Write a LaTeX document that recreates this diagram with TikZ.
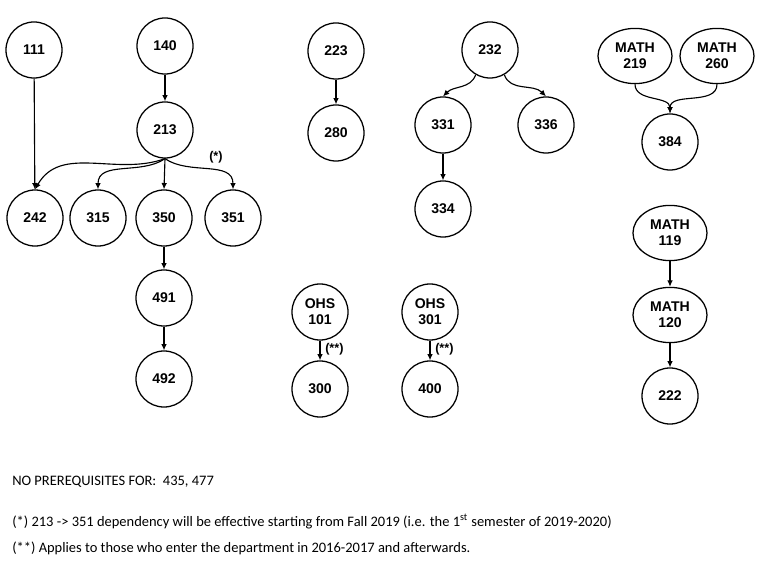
\documentclass[tikz,border=0pt]{standalone}
\usepackage{fontspec}
\setmainfont{Liberation Sans}
\newfontfamily\notefont{Carlito}
\usetikzlibrary{arrows.meta,shapes.geometric}

\tikzset{
  course/.style={draw, circle, line width=0.9pt, minimum size=1.4cm, inner sep=0pt, align=center, font=\bfseries\fontsize{10}{11.5}\selectfont},
  mathcourse/.style={draw, ellipse, line width=0.9pt, minimum width=1.85cm, minimum height=1.38cm, inner sep=0pt, align=center, font=\bfseries\fontsize{10}{11.5}\selectfont},
  prereq/.style={line width=0.8pt, -{Latex[length=4.5pt, width=4pt]}},
  mark note/.style={font=\bfseries\fontsize{9}{10}\selectfont},
  footnote/.style={anchor=base west, inner sep=0pt, font=\notefont\fontsize{10.3}{12}\selectfont}
}

\begin{document}
\begin{tikzpicture}[x=0.025cm, y=-0.025cm]
% Page frame (pixels of the original sheet)
\useasboundingbox (0,0) rectangle (768,576);

% Main chain
\node[course] (n111) at (34,50) {111};
\node[course] (n140) at (165,46) {140};
\node[course] (n213) at (165,130) {213};
\node[course] (n242) at (35,218) {242};
\node[course] (n315) at (98,218) {315};
\node[course] (n350) at (164,218) {350};
\node[course] (n351) at (233,218) {351};
\node[course] (n491) at (164,298) {491};
\node[course] (n492) at (164,379) {492};

\draw[prereq] (n111) -- (n242);
\draw[prereq] (n140) -- (n213);
\draw[prereq] (n213.south) to[out=-160, in=60] (n242.north);
\draw[prereq] (n213.south) to[out=-145, in=90] (n315.north);
\draw[prereq] (n213.south) -- (n350.north);
\draw[prereq] (n213.south) to[out=-35, in=90] node[mark note, above, pos=0.6, yshift=2pt] {(*)} (n351.north);
\draw[prereq] (n350) -- (n491);
\draw[prereq] (n491) -- (n492);

% Middle groups
\node[course] (n223) at (336,51) {223};
\node[course] (n280) at (336,133) {280};
\node[course] (n232) at (490,50) {232};
\node[course] (n331) at (443,125) {331};
\node[course] (n336) at (546,125) {336};
\node[course] (n334) at (443,209) {334};

\draw[prereq] (n223) -- (n280);
\draw[prereq] (n232.-120) to[out=-110, in=45] (n331.north);
\draw[prereq] (n232.-60) to[out=-70, in=135] (n336.north);
\draw[prereq] (n331) -- (n334);

% OHS courses
\node[course] (ohs101) at (320,312) {OHS\\101};
\node[course] (n300) at (320,389) {300};
\node[course] (ohs301) at (430,312) {OHS\\301};
\node[course] (n400) at (430,389) {400};

\draw[prereq] (ohs101) -- node[mark note, right, pos=0.45] {(**)} (n300);
\draw[prereq] (ohs301) -- node[mark note, right, pos=0.45] {(**)} (n400);

% MATH courses
\node[mathcourse] (math219) at (635,56) {MATH\\219};
\node[mathcourse] (math260) at (717,56) {MATH\\260};
\node[course] (n384) at (670,142) {384};
\node[mathcourse] (math119) at (670,233) {MATH\\119};
\node[mathcourse] (math120) at (670,315) {MATH\\120};
\node[course] (n222) at (670,396) {222};

\draw[prereq] (math219.south) to[out=-90, in=90] (n384.north);
\draw[prereq] (math260.south) to[out=-90, in=90] (n384.north);
\draw[prereq] (math119) -- (math120);
\draw[prereq] (math120) -- (n222);

% Notes
\node[footnote] (none) at (12,485) {NO PREREQUISITES FOR:\ \ 435, 477};
\node[footnote] (note1) at (12,526) {(*) 213 -> 351 dependency will be effective starting from Fall 2019 (i.e. the 1\textsuperscript{st} semester of 2019-2020)};
\node[footnote] (note2) at (12,552) {(**) Applies to those who enter the department in 2016-2017 and afterwards.};
\end{tikzpicture}
\end{document}
